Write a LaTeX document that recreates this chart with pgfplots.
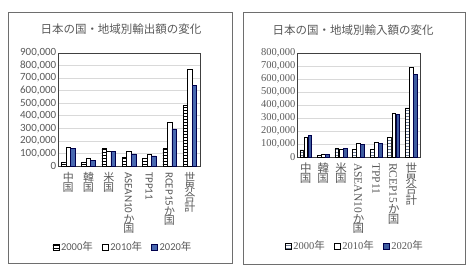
\documentclass[border=0pt]{standalone}
\usepackage{pgfplots}
\pgfplotsset{compat=1.18}
\usepackage{graphicx}
\usepackage{fontspec}
\usetikzlibrary{patterns}
\setmainfont{Carlito}
\newfontfamily\carlito{Carlito}
\newfontfamily\lserif{Liberation Serif}
\newfontfamily\jp{Noto Sans CJK JP}
\definecolor{textgray}{RGB}{89,89,89}
\definecolor{gridgray}{RGB}{217,217,217}
\definecolor{framegray}{RGB}{110,110,110}
\definecolor{barblue}{RGB}{72,104,176}
\definecolor{barblueR}{RGB}{62,92,160}
\definecolor{stripeR}{RGB}{110,125,150}
\newcommand\J[1]{\rotatebox[origin=c]{90}{\jp #1}}

\pgfplotstableread{
x y2000 y2010 y2020
0 31000 150000 139000
1 31000 64000 47000
2 144000 119000 119000
3 69000 115000 96000
4 61000 96000 80000
5 141000 349000 296000
6 480000 770000 645000
}\exporttab

\pgfplotstableread{
x y2000 y2010 y2020
0 55000 153000 165000
1 15000 22000 22000
2 70000 63000 69000
3 56000 103000 95000
4 56000 115000 105000
5 154000 333000 326000
6 377000 694000 635000
}\importtab

\begin{document}
\begin{tikzpicture}[x=1pt,y=1pt]
\path[use as bounding box] (0,0) rectangle (474,276);
\draw[framegray, line width=0.8pt] (8,13) rectangle (232,264);
\draw[framegray, line width=0.8pt] (243,12) rectangle (465,264);
\node[textgray, font=\jp\fontsize{11.5}{12}\selectfont] at (121,247) {日本の国・地域別輸出額の変化};
\node[textgray, font=\jp\fontsize{11.5}{12}\selectfont] at (353,246) {日本の国・地域別輸入額の変化};

\begin{axis}[
  at={(58pt,110pt)}, anchor=south west,
  scale only axis, width=142pt, height=113pt,
  ybar=0pt, bar width=0.222,
  xmin=-0.5, xmax=6.5, ymin=0, ymax=900000,
  ytick={0,100000,...,900000},
  scaled y ticks=false,
  xtick={0,...,6},
  xticklabels={{\J{中}\J{国}},{\J{韓}\J{国}},{\J{米}\J{国}},{ASEAN10\hspace{1pt}\J{か}\J{国}},{TPP11},{RCEP15\hspace{1pt}\J{か}\J{国}},{\J{世}\J{界}\J{合}\J{計}}},
  xticklabel shift=5pt,
  xticklabel style={rotate=-90, anchor=west, font=\carlito\fontsize{11}{11}\selectfont, text=textgray, inner sep=1pt},
  yticklabel style={font=\carlito\fontsize{11}{11}\selectfont, text=textgray, inner sep=1.5pt,
    /pgf/number format/.cd, fixed, 1000 sep={,}, assume math mode=true},
  major tick length=0pt,
  ymajorgrids, grid style={gridgray, line width=0.6pt},
  axis line style={black!75, line width=0.7pt},
  legend style={at={(0.458,-0.717)}, anchor=center, legend columns=3, draw=none, fill=none,
    font=\carlito\fontsize{10.5}{11}\selectfont, text=textgray, inner sep=0pt,
    /tikz/every even column/.append style={column sep=7pt}},
  legend image code/.code={\draw[#1] (0pt,-3pt) rectangle (6pt,3pt);},
]
\addplot[draw=black, line width=0.5pt, fill=white, postaction={pattern=horizontal lines, pattern color=black}] table[x=x,y=y2000] {\exporttab};
\addplot[draw=black, line width=0.5pt, fill=white] table[x=x,y=y2010] {\exporttab};
\addplot[draw=black!70!blue, line width=0.5pt, fill=barblue] table[x=x,y=y2020] {\exporttab};
\legend{2000{\jp 年},2010{\jp 年},2020{\jp 年}}
\end{axis}

\begin{axis}[
  at={(297pt,119pt)}, anchor=south west,
  scale only axis, width=123pt, height=104pt,
  ybar=0.4pt, bar width=0.21,
  xmin=-0.5, xmax=6.5, ymin=0, ymax=800000,
  ytick={0,100000,...,800000},
  scaled y ticks=false,
  xtick={0,...,6},
  xticklabels={{\J{中}\J{国}},{\J{韓}\J{国}},{\J{米}\J{国}},{ASEAN10\hspace{1pt}\J{か}\J{国}},{TPP11},{RCEP15\hspace{1pt}\J{か}\J{国}},{\J{世}\J{界}\J{合}\J{計}}},
  xticklabel shift=5pt,
  xticklabel style={rotate=-90, anchor=west, font=\lserif\fontsize{11.5}{11}\selectfont, text=textgray, inner sep=1pt},
  yticklabel style={font=\lserif\fontsize{10.5}{11}\selectfont, text=textgray, inner sep=1.5pt,
    /pgf/number format/.cd, fixed, 1000 sep={,}, assume math mode=true},
  major tick length=0pt,
  ymajorgrids, grid style={gridgray, line width=0.6pt},
  axis line style={black!75, line width=0.7pt},
  legend style={at={(0.47,-0.856)}, anchor=center, legend columns=3, draw=none, fill=none,
    font=\lserif\fontsize{10.5}{11}\selectfont, text=textgray, inner sep=0pt,
    /tikz/every even column/.append style={column sep=7pt}},
  legend image code/.code={\draw[#1] (0pt,-3pt) rectangle (6pt,3pt);},
]
\addplot[draw=black, line width=0.5pt, fill=white, postaction={pattern=horizontal lines, pattern color=stripeR}] table[x=x,y=y2000] {\importtab};
\addplot[draw=black, line width=0.5pt, fill=white] table[x=x,y=y2010] {\importtab};
\addplot[draw=black!70!blue, line width=0.5pt, fill=barblueR] table[x=x,y=y2020] {\importtab};
\legend{2000{\jp 年},2010{\jp 年},2020{\jp 年}}
\end{axis}
\end{tikzpicture}
\end{document}
